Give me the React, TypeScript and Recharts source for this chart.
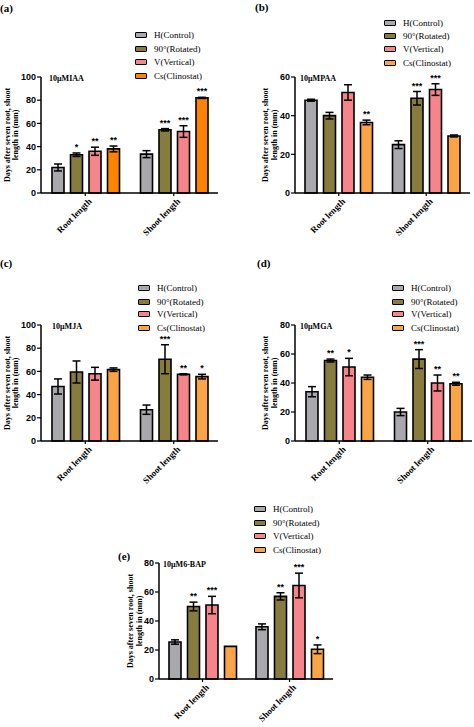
import React from "react";
import { BarChart, Bar, XAxis, YAxis, ErrorBar, LabelList } from "recharts";

const categories = ["Root length", "Shoot length"];
const treatments = ["H(Control)", "90°(Rotated)", "V(Vertical)", "Cs(Clinostat)"];

// (a) 10µM IAA
const iaaRoot = [22, 33, 36, 38];
const iaaRootErr = [3, 1.5, 3.5, 2.5];
const iaaRootSig = ["", "*", "**", "**"];
const iaaShoot = [33.5, 54.5, 53, 82];
const iaaShootErr = [3, 1, 5, 0.5];
const iaaShootSig = ["", "***", "***", "***"];

// (b) 10µM PAA
const paaRoot = [48, 40, 52, 36.5];
const paaRootErr = [0.5, 1.7, 4, 1.2];
const paaRootSig = ["", "", "", "**"];
const paaShoot = [25, 49, 53.5, 29.5];
const paaShootErr = [2, 3.5, 3, 0.5];
const paaShootSig = ["", "***", "***", ""];

// (c) 10µM JA
const jaRoot = [47, 59.5, 58, 61.5];
const jaRootErr = [6.5, 9.5, 5.5, 1.5];
const jaRootSig = ["", "", "", ""];
const jaShoot = [27, 70.5, 57.5, 55.5];
const jaShootErr = [4, 12.5, 0.5, 2];
const jaShootSig = ["", "***", "**", "*"];

// (d) 10µM GA
const gaRoot = [34, 55.5, 51, 44];
const gaRootErr = [3.5, 1, 6, 1.5];
const gaRootSig = ["", "**", "*", ""];
const gaShoot = [20, 56.5, 40, 39.5];
const gaShootErr = [2.5, 6.5, 5.5, 1];
const gaShootSig = ["", "***", "**", "**"];

// (e) 10µM 6-BAP
const bapRoot = [25.5, 50, 51, 22.5];
const bapRootErr = [1.5, 3, 6, 0];
const bapRootSig = ["", "**", "***", ""];
const bapShoot = [36, 57, 64.5, 20.5];
const bapShootErr = [2, 2.5, 8.5, 3];
const bapShootSig = ["", "**", "***", "*"];

const GRAY = "#a9a9ad";
const OLIVE = "#877b3e";
const PINK = "#f5858a";
const ORANGE_DARK = "#fc8402";
const ORANGE = "#fba446";

const SERIF = "'Liberation Serif', 'Times New Roman', serif";
const SANS = "'Liberation Sans', Arial, sans-serif";

const AXIS_W = 41;
const TOP_PAD = 14;
const PLOT_H = 116;
const X_H = 44;

function makeRows(root, rootErr, rootSig, shoot, shootErr, shootSig) {
  const sets = [
    [root, rootErr, rootSig],
    [shoot, shootErr, shootSig],
  ];
  return categories.map((cat, c) => {
    const row: any = { cat };
    treatments.forEach((_, i) => {
      row[`v${i}`] = sets[c][0][i];
      row[`e${i}`] = sets[c][1][i];
      row[`g${i}`] = sets[c][2][i];
    });
    return row;
  });
}

const panels = [
  {
    letter: "(a)", letterX: 0, letterY: 8,
    title: "10µMIAA", titleDx: 8,
    plotLeft: 41, plotTop: 77, plotW: 177, yMax: 100, ticks: [0, 20, 40, 60, 80, 100],
    labelDx: [34, 26],
    legendBox: 135, legendRows: [35, 49, 62, 76],
    colors: [GRAY, OLIVE, PINK, ORANGE_DARK],
    data: makeRows(iaaRoot, iaaRootErr, iaaRootSig, iaaShoot, iaaShootErr, iaaShootSig),
  },
  {
    letter: "(b)", letterX: 255, letterY: 7,
    title: "10µMPAA", titleDx: 5,
    plotLeft: 295, plotTop: 77, plotW: 175, yMax: 60, ticks: [0, 20, 40, 60],
    labelDx: [30, 21],
    legendBox: 384, legendRows: [23, 36, 49, 63],
    colors: [GRAY, OLIVE, PINK, ORANGE],
    data: makeRows(paaRoot, paaRootErr, paaRootSig, paaShoot, paaShootErr, paaShootSig),
  },
  {
    letter: "(c)", letterX: 0, letterY: 263,
    title: "10µMJA", titleDx: 11,
    plotLeft: 41, plotTop: 325, plotW: 177, yMax: 100, ticks: [0, 20, 40, 60, 80, 100],
    labelDx: [34, 26],
    legendBox: 138, legendRows: [288, 302, 314, 328],
    colors: [GRAY, OLIVE, PINK, ORANGE],
    data: makeRows(jaRoot, jaRootErr, jaRootSig, jaShoot, jaShootErr, jaShootSig),
  },
  {
    letter: "(d)", letterX: 257, letterY: 263,
    title: "10µMGA", titleDx: 5,
    plotLeft: 295, plotTop: 325, plotW: 177, yMax: 80, ticks: [0, 20, 40, 60, 80],
    labelDx: [30, 21],
    legendBox: 392, legendRows: [288, 302, 314, 328],
    colors: [GRAY, OLIVE, PINK, ORANGE],
    data: makeRows(gaRoot, gaRootErr, gaRootSig, gaShoot, gaShootErr, gaShootSig),
  },
  {
    letter: "(e)", letterX: 118, letterY: 556,
    title: "10µM6-BAP", titleDx: 4,
    plotLeft: 159, plotTop: 563, plotW: 174, yMax: 80, ticks: [0, 20, 40, 60, 80],
    labelDx: [29, 20],
    legendBox: 254, legendRows: [509, 523, 536, 550],
    colors: [GRAY, OLIVE, PINK, ORANGE],
    data: makeRows(bapRoot, bapRootErr, bapRootSig, bapShoot, bapShootErr, bapShootSig),
  },
];

const CatTick = (props: any) => {
  const { x, y, payload } = props;
  const ax = x + 7;
  const ay = y + 4;
  return (
    <text x={ax} y={ay} textAnchor="end" transform={`rotate(-45 ${ax} ${ay})`}
      fontFamily={SERIF} fontWeight="bold" fontSize={9} fill="#000">
      {payload.value}
    </text>
  );
};

const YLabel = ({ dx }: { dx: number[] }) => {
  const cy = TOP_PAD + PLOT_H / 2;
  const x1 = AXIS_W - dx[0];
  const x2 = AXIS_W - dx[1];
  return (
    <g fontFamily={SERIF} fontWeight="bold" fontSize={8} fill="#000">
      <text x={x1} y={cy} textAnchor="middle" dominantBaseline="central" transform={`rotate(-90 ${x1} ${cy})`}>
        Days after seven root, shoot
      </text>
      <text x={x2} y={cy} textAnchor="middle" dominantBaseline="central" transform={`rotate(-90 ${x2} ${cy})`}>
        length in (mm)
      </text>
    </g>
  );
};

function Panel({ p }: { p: any }) {
  const chartLeft = p.plotLeft - AXIS_W;
  const chartTop = p.plotTop - TOP_PAD;
  const unit = PLOT_H / p.yMax;

  const starContent = (i: number) => (props: any) => {
    const vb = props.viewBox || props;
    const x = vb.x ?? props.x;
    const y = vb.y ?? props.y;
    const w = vb.width ?? props.width;
    const row = p.data[props.index];
    if (!row || !row[`g${i}`]) return null;
    const top = y - row[`e${i}`] * unit;
    return (
      <text x={x + w / 2} y={top - 3} textAnchor="middle" fontFamily={SANS} fontWeight="bold" fontSize={9} fill="#000">
        {row[`g${i}`]}
      </text>
    );
  };

  return (
    <>
      <div style={{ position: "absolute", left: chartLeft, top: chartTop }}>
        <BarChart
          width={AXIS_W + p.plotW + 2}
          height={TOP_PAD + PLOT_H + X_H}
          data={p.data}
          margin={{ top: TOP_PAD, right: 2, left: 0, bottom: 0 }}
          barSize={12}
          barGap={6.5}
          style={{ overflow: "visible" }}
        >
          <XAxis
            dataKey="cat"
            height={X_H}
            interval={0}
            tick={<CatTick />}
            tickSize={3}
            axisLine={{ stroke: "#000", strokeWidth: 1.5 }}
            tickLine={{ stroke: "#000", strokeWidth: 1.2 }}
          />
          <YAxis
            width={AXIS_W}
            domain={[0, p.yMax]}
            ticks={p.ticks}
            interval={0}
            tickSize={4}
            tickMargin={1}
            axisLine={{ stroke: "#000", strokeWidth: 1.5 }}
            tickLine={{ stroke: "#000", strokeWidth: 1.2 }}
            tick={{ fontFamily: SANS, fontWeight: "bold", fontSize: 9, fill: "#000" }}
            label={<YLabel dx={p.labelDx} />}
          />
          {treatments.map((t, i) => (
            <Bar key={t} dataKey={`v${i}`} name={t} fill={p.colors[i]} stroke="#000" strokeWidth={1.6} isAnimationActive={false}>
              <ErrorBar dataKey={`e${i}`} width={4} stroke="#000" strokeWidth={1.5} />
              <LabelList dataKey={`g${i}`} content={starContent(i)} />
            </Bar>
          ))}
        </BarChart>
      </div>
      <div style={{ position: "absolute", left: p.plotLeft + p.titleDx, top: p.plotTop - 4, lineHeight: "12px",
        fontFamily: SERIF, fontWeight: "bold", fontSize: 8, whiteSpace: "nowrap" }}>
        {p.title}
      </div>
      <div style={{ position: "absolute", left: p.letterX, top: p.letterY - 7, lineHeight: "14px",
        fontFamily: SERIF, fontWeight: "bold", fontSize: 11 }}>
        {p.letter}
      </div>
      {treatments.map((t, i) => (
        <React.Fragment key={t}>
          <div style={{ position: "absolute", left: p.legendBox, top: p.legendRows[i] - 3.5, width: 10, height: 4,
            background: p.colors[i], border: "1.6px solid #000", borderRadius: 1 }} />
          <div style={{ position: "absolute", left: p.legendBox + 19, top: p.legendRows[i] - 6, lineHeight: "12px",
            fontFamily: SERIF, fontSize: 9, whiteSpace: "nowrap" }}>
            {t}
          </div>
        </React.Fragment>
      ))}
    </>
  );
}

export default function App() {
  return (
    <div style={{ position: "absolute", left: 0, top: 0, width: 474, height: 727, background: "#fff", overflow: "hidden" }}>
      {panels.map((p) => (
        <Panel key={p.letter} p={p} />
      ))}
    </div>
  );
}
